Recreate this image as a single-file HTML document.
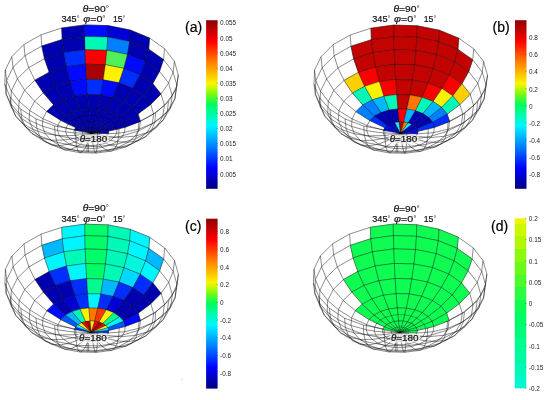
<!DOCTYPE html><html><head><meta charset="utf-8"><title>figure</title><style>html,body{margin:0;padding:0;background:#fff}body{width:550px;height:400px;overflow:hidden}</style></head><body><svg width="550" height="400" viewBox="0 0 550 400" style="display:block;font-family:'Liberation Sans',sans-serif"><rect width="550" height="400" fill="#fff"/><path d="M75.6 129.8 L75.8 139.0 L76.6 146.1 L78.0 150.7 L79.9 152.7 L82.3 151.8 L85.0 148.2 L86.5 145.4 L88.1 141.9 L89.7 137.7 L91.3 133.0 M54.6 125.9 L55.2 135.2 L57.1 142.4 L60.3 147.4 L64.8 149.9 L70.3 149.6 L76.7 146.7 L80.2 144.2 L83.8 141.1 L87.5 137.3 L91.3 133.0 M35.9 118.8 L36.8 128.3 L39.7 135.9 L44.6 141.5 L51.3 144.8 L59.7 145.7 L69.4 143.9 L74.6 142.1 L80.1 139.7 L85.6 136.6 L91.3 133.0 M20.7 109.1 L21.8 118.7 L25.5 126.9 L31.8 133.4 L40.4 137.9 L51.1 140.2 L63.5 140.1 L70.1 139.2 L77.0 137.7 L84.1 135.6 L91.3 133.0 M10.1 97.2 L11.3 107.1 L15.6 116.0 L22.9 123.6 L32.9 129.5 L45.2 133.6 L59.4 135.6 L67.1 135.7 L75.0 135.4 L83.1 134.5 L91.3 133.0 M4.8 83.9 L6.1 94.0 L10.7 103.7 L18.5 112.6 L29.2 120.2 L42.4 126.2 L57.5 130.5 L65.7 131.9 L74.1 132.8 L82.6 133.2 L91.3 133.0 M5.3 70.0 L6.6 80.5 L11.3 91.0 L19.1 101.2 L29.7 110.5 L42.9 118.7 L57.9 125.3 L66.0 128.0 L74.3 130.1 L82.8 131.8 L91.3 133.0 M11.8 56.6 L13.0 67.4 L17.4 78.7 L24.6 90.1 L34.5 101.2 L46.7 111.4 L60.6 120.3 L68.0 124.2 L75.7 127.6 L83.5 130.5 L91.3 133.0 M23.9 44.5 L25.0 55.6 L28.7 67.7 L34.9 80.2 L43.3 92.8 L53.6 104.8 L65.4 115.8 L71.7 120.8 L78.1 125.3 L84.7 129.4 L91.3 133.0 M41.0 34.8 L41.8 46.0 L44.5 58.7 L49.2 72.2 L55.5 86.1 L63.2 99.6 L72.0 112.3 L76.7 118.1 L81.5 123.5 L86.4 128.5 L91.3 133.0 M61.7 28.0 L62.2 39.5 L63.8 52.5 L66.5 66.7 L70.3 81.4 L74.8 96.0 L80.0 109.8 L82.7 116.3 L85.6 122.3 L88.4 127.9 L91.3 133.0 M84.7 24.9 L84.8 36.4 L85.1 49.7 L85.7 64.2 L86.6 79.3 L87.6 94.3 L88.8 108.7 L89.4 115.4 L90.0 121.7 L90.7 127.6 L91.3 133.0 M108.1 25.6 L107.8 37.1 L106.9 50.3 L105.4 64.7 L103.2 79.8 L100.7 94.7 L97.7 108.9 L96.2 115.6 L94.6 121.9 L92.9 127.7 L91.3 133.0 M130.3 30.1 L129.7 41.5 L127.5 54.4 L123.9 68.4 L119.0 82.8 L113.0 97.1 L106.2 110.5 L102.6 116.8 L98.9 122.7 L95.1 128.1 L91.3 133.0 M149.6 38.0 L148.7 49.2 L145.5 61.6 L140.1 74.9 L132.8 88.3 L123.9 101.3 L113.7 113.4 L108.2 119.0 L102.7 124.1 L97.0 128.8 L91.3 133.0 M164.6 48.7 L163.5 59.6 L159.5 71.4 L152.7 83.6 L143.6 95.7 L132.4 107.1 L119.5 117.4 L112.7 121.9 L105.7 126.1 L98.5 129.8 L91.3 133.0 M174.4 61.3 L173.1 72.0 L168.6 83.0 L161.0 94.0 L150.7 104.4 L138.0 113.9 L123.5 122.0 L115.7 125.5 L107.7 128.5 L99.5 131.0 L91.3 133.0 M178.3 75.0 L176.9 85.4 L172.2 95.6 L164.4 105.3 L153.6 114.0 L140.4 121.4 L125.1 127.2 L117.0 129.4 L108.6 131.1 L100.0 132.3 L91.3 133.0 M176.2 88.8 L174.9 98.8 L170.4 108.2 L162.7 116.6 L152.3 123.6 L139.4 128.9 L124.5 132.4 L116.5 133.3 L108.3 133.7 L99.8 133.6 L91.3 133.0 M168.5 101.6 L167.3 111.4 L163.2 120.1 L156.3 127.3 L146.9 132.7 L135.2 136.1 L121.7 137.3 L114.4 137.0 L106.8 136.2 L99.1 134.9 L91.3 133.0 M155.7 112.8 L154.8 122.4 L151.4 130.4 L145.7 136.6 L137.8 140.6 L128.0 142.3 L116.8 141.6 L110.7 140.3 L104.3 138.5 L97.9 136.0 L91.3 133.0 M138.9 121.7 L138.2 131.1 L135.7 138.6 L131.5 143.9 L125.7 146.9 L118.5 147.3 L110.2 145.0 L105.7 143.0 L101.0 140.2 L96.2 136.9 L91.3 133.0 M119.1 127.7 L118.6 136.9 L117.2 144.1 L114.7 148.9 L111.4 151.1 L107.2 150.6 L102.3 147.4 L99.7 144.7 L97.0 141.4 L94.2 137.5 L91.3 133.0 M97.5 130.4 L97.4 139.6 L97.1 146.6 L96.5 151.2 L95.8 153.1 L94.9 152.2 L93.8 148.5 L93.2 145.6 L92.6 142.0 L91.9 137.8 L91.3 133.0 M75.6 129.8 L54.6 125.9 L35.9 118.8 L20.7 109.1 L10.1 97.2 L4.8 83.9 L5.3 70.0 L11.8 56.6 L23.9 44.5 L41.0 34.8 L61.7 28.0 L84.7 24.9 L108.1 25.6 L130.3 30.1 L149.6 38.0 L164.6 48.7 L174.4 61.3 L178.3 75.0 L176.2 88.8 L168.5 101.6 L155.7 112.8 L138.9 121.7 L119.1 127.7 L97.5 130.4 L75.6 129.8 M75.8 139.0 L55.2 135.2 L36.8 128.3 L21.8 118.7 L11.3 107.1 L6.1 94.0 L6.6 80.5 L13.0 67.4 L25.0 55.6 L41.8 46.0 L62.2 39.5 L84.8 36.4 L107.8 37.1 L129.7 41.5 L148.7 49.2 L163.5 59.6 L173.1 72.0 L176.9 85.4 L174.9 98.8 L167.3 111.4 L154.8 122.4 L138.2 131.1 L118.6 136.9 L97.4 139.6 L75.8 139.0 M76.6 146.1 L57.1 142.4 L39.7 135.9 L25.5 126.9 L15.6 116.0 L10.7 103.7 L11.3 91.0 L17.4 78.7 L28.7 67.7 L44.5 58.7 L63.8 52.5 L85.1 49.7 L106.9 50.3 L127.5 54.4 L145.5 61.6 L159.5 71.4 L168.6 83.0 L172.2 95.6 L170.4 108.2 L163.2 120.1 L151.4 130.4 L135.7 138.6 L117.2 144.1 L97.1 146.6 L76.6 146.1 M78.0 150.7 L60.3 147.4 L44.6 141.5 L31.8 133.4 L22.9 123.6 L18.5 112.6 L19.1 101.2 L24.6 90.1 L34.9 80.2 L49.2 72.2 L66.5 66.7 L85.7 64.2 L105.4 64.7 L123.9 68.4 L140.1 74.9 L152.7 83.6 L161.0 94.0 L164.4 105.3 L162.7 116.6 L156.3 127.3 L145.7 136.6 L131.5 143.9 L114.7 148.9 L96.5 151.2 L78.0 150.7 M79.9 152.7 L64.8 149.9 L51.3 144.8 L40.4 137.9 L32.9 129.5 L29.2 120.2 L29.7 110.5 L34.5 101.2 L43.3 92.8 L55.5 86.1 L70.3 81.4 L86.6 79.3 L103.2 79.8 L119.0 82.8 L132.8 88.3 L143.6 95.7 L150.7 104.4 L153.6 114.0 L152.3 123.6 L146.9 132.7 L137.8 140.6 L125.7 146.9 L111.4 151.1 L95.8 153.1 L79.9 152.7 M82.3 151.8 L70.3 149.6 L59.7 145.7 L51.1 140.2 L45.2 133.6 L42.4 126.2 L42.9 118.7 L46.7 111.4 L53.6 104.8 L63.2 99.6 L74.8 96.0 L87.6 94.3 L100.7 94.7 L113.0 97.1 L123.9 101.3 L132.4 107.1 L138.0 113.9 L140.4 121.4 L139.4 128.9 L135.2 136.1 L128.0 142.3 L118.5 147.3 L107.2 150.6 L94.9 152.2 L82.3 151.8 M85.0 148.2 L76.7 146.7 L69.4 143.9 L63.5 140.1 L59.4 135.6 L57.5 130.5 L57.9 125.3 L60.6 120.3 L65.4 115.8 L72.0 112.3 L80.0 109.8 L88.8 108.7 L97.7 108.9 L106.2 110.5 L113.7 113.4 L119.5 117.4 L123.5 122.0 L125.1 127.2 L124.5 132.4 L121.7 137.3 L116.8 141.6 L110.2 145.0 L102.3 147.4 L93.8 148.5 L85.0 148.2 M86.5 145.4 L80.2 144.2 L74.6 142.1 L70.1 139.2 L67.1 135.7 L65.7 131.9 L66.0 128.0 L68.0 124.2 L71.7 120.8 L76.7 118.1 L82.7 116.3 L89.4 115.4 L96.2 115.6 L102.6 116.8 L108.2 119.0 L112.7 121.9 L115.7 125.5 L117.0 129.4 L116.5 133.3 L114.4 137.0 L110.7 140.3 L105.7 143.0 L99.7 144.7 L93.2 145.6 L86.5 145.4 M88.1 141.9 L83.8 141.1 L80.1 139.7 L77.0 137.7 L75.0 135.4 L74.1 132.8 L74.3 130.1 L75.7 127.6 L78.1 125.3 L81.5 123.5 L85.6 122.3 L90.0 121.7 L94.6 121.9 L98.9 122.7 L102.7 124.1 L105.7 126.1 L107.7 128.5 L108.6 131.1 L108.3 133.7 L106.8 136.2 L104.3 138.5 L101.0 140.2 L97.0 141.4 L92.6 142.0 L88.1 141.9 M89.7 137.7 L87.5 137.3 L85.6 136.6 L84.1 135.6 L83.1 134.5 L82.6 133.2 L82.8 131.8 L83.5 130.5 L84.7 129.4 L86.4 128.5 L88.4 127.9 L90.7 127.6 L92.9 127.7 L95.1 128.1 L97.0 128.8 L98.5 129.8 L99.5 131.0 L100.0 132.3 L99.8 133.6 L99.1 134.9 L97.9 136.0 L96.2 136.9 L94.2 137.5 L91.9 137.8 L89.7 137.7" fill="none" stroke="#000" stroke-width="0.45"/><g stroke="#000" stroke-opacity="0.75" stroke-width="0.4" stroke-linejoin="round"><polygon points="61.7,28.0 84.7,24.9 84.8,36.4 62.2,39.5" fill="#0000b0"/><polygon points="84.7,24.9 108.1,25.6 107.8,37.1 84.8,36.4" fill="#000aff"/><polygon points="108.1,25.6 130.3,30.1 129.7,41.5 107.8,37.1" fill="#0000d6"/><polygon points="130.3,30.1 149.6,38.0 148.7,49.2 129.7,41.5" fill="#0000b0"/><polygon points="41.8,46.0 62.2,39.5 63.8,52.5 44.5,58.7" fill="#0000b0"/><polygon points="62.2,39.5 84.8,36.4 85.1,49.7 63.8,52.5" fill="#0000b0"/><polygon points="84.8,36.4 107.8,37.1 106.9,50.3 85.1,49.7" fill="#00f9b7"/><polygon points="107.8,37.1 129.7,41.5 127.5,54.4 106.9,50.3" fill="#0080ff"/><polygon points="129.7,41.5 148.7,49.2 145.5,61.6 127.5,54.4" fill="#0000b0"/><polygon points="148.7,49.2 163.5,59.6 159.5,71.4 145.5,61.6" fill="#0000b0"/><polygon points="44.5,58.7 63.8,52.5 66.5,66.7 49.2,72.2" fill="#0000b0"/><polygon points="63.8,52.5 85.1,49.7 85.7,64.2 66.5,66.7" fill="#002eff"/><polygon points="85.1,49.7 106.9,50.3 105.4,64.7 85.7,64.2" fill="#fa0000"/><polygon points="106.9,50.3 127.5,54.4 123.9,68.4 105.4,64.7" fill="#50f058"/><polygon points="127.5,54.4 145.5,61.6 140.1,74.9 123.9,68.4" fill="#000aff"/><polygon points="145.5,61.6 159.5,71.4 152.7,83.6 140.1,74.9" fill="#0000b0"/><polygon points="34.9,80.2 49.2,72.2 55.5,86.1 43.3,92.8" fill="#0000b0"/><polygon points="49.2,72.2 66.5,66.7 70.3,81.4 55.5,86.1" fill="#0000b0"/><polygon points="66.5,66.7 85.7,64.2 86.6,79.3 70.3,81.4" fill="#000aff"/><polygon points="85.7,64.2 105.4,64.7 103.2,79.8 86.6,79.3" fill="#a80303"/><polygon points="105.4,64.7 123.9,68.4 119.0,82.8 103.2,79.8" fill="#faf200"/><polygon points="123.9,68.4 140.1,74.9 132.8,88.3 119.0,82.8" fill="#002eff"/><polygon points="140.1,74.9 152.7,83.6 143.6,95.7 132.8,88.3" fill="#0000b0"/><polygon points="152.7,83.6 161.0,94.0 150.7,104.4 143.6,95.7" fill="#0000b0"/><polygon points="43.3,92.8 55.5,86.1 63.2,99.6 53.6,104.8" fill="#0000b0"/><polygon points="55.5,86.1 70.3,81.4 74.8,96.0 63.2,99.6" fill="#0000b0"/><polygon points="70.3,81.4 86.6,79.3 87.6,94.3 74.8,96.0" fill="#000aff"/><polygon points="86.6,79.3 103.2,79.8 100.7,94.7 87.6,94.3" fill="#002eff"/><polygon points="103.2,79.8 119.0,82.8 113.0,97.1 100.7,94.7" fill="#000aff"/><polygon points="119.0,82.8 132.8,88.3 123.9,101.3 113.0,97.1" fill="#0000b0"/><polygon points="132.8,88.3 143.6,95.7 132.4,107.1 123.9,101.3" fill="#0000b0"/><polygon points="143.6,95.7 150.7,104.4 138.0,113.9 132.4,107.1" fill="#0000b0"/><polygon points="46.7,111.4 53.6,104.8 65.4,115.8 60.6,120.3" fill="#0000b0"/><polygon points="53.6,104.8 63.2,99.6 72.0,112.3 65.4,115.8" fill="#0000b0"/><polygon points="63.2,99.6 74.8,96.0 80.0,109.8 72.0,112.3" fill="#0000b0"/><polygon points="74.8,96.0 87.6,94.3 88.8,108.7 80.0,109.8" fill="#0000b0"/><polygon points="87.6,94.3 100.7,94.7 97.7,108.9 88.8,108.7" fill="#0000b0"/><polygon points="100.7,94.7 113.0,97.1 106.2,110.5 97.7,108.9" fill="#0000b0"/><polygon points="113.0,97.1 123.9,101.3 113.7,113.4 106.2,110.5" fill="#0000b0"/><polygon points="123.9,101.3 132.4,107.1 119.5,117.4 113.7,113.4" fill="#0000b0"/><polygon points="132.4,107.1 138.0,113.9 123.5,122.0 119.5,117.4" fill="#0000b0"/><polygon points="138.0,113.9 140.4,121.4 125.1,127.2 123.5,122.0" fill="#0000b0"/><polygon points="60.6,120.3 65.4,115.8 78.1,125.3 75.7,127.6" fill="#0000b0"/><polygon points="65.4,115.8 72.0,112.3 81.5,123.5 78.1,125.3" fill="#0000b0"/><polygon points="72.0,112.3 80.0,109.8 85.6,122.3 81.5,123.5" fill="#0000b0"/><polygon points="80.0,109.8 88.8,108.7 90.0,121.7 85.6,122.3" fill="#0000b0"/><polygon points="88.8,108.7 97.7,108.9 94.6,121.9 90.0,121.7" fill="#0000b0"/><polygon points="97.7,108.9 106.2,110.5 98.9,122.7 94.6,121.9" fill="#0000b0"/><polygon points="106.2,110.5 113.7,113.4 102.7,124.1 98.9,122.7" fill="#0000b0"/><polygon points="113.7,113.4 119.5,117.4 105.7,126.1 102.7,124.1" fill="#0000b0"/><polygon points="119.5,117.4 123.5,122.0 107.7,128.5 105.7,126.1" fill="#0000b0"/><polygon points="123.5,122.0 125.1,127.2 108.6,131.1 107.7,128.5" fill="#0000b0"/><polygon points="74.3,130.1 75.7,127.6 91.3,133.0 91.3,133.0" fill="#0000b0"/><polygon points="75.7,127.6 78.1,125.3 91.3,133.0 91.3,133.0" fill="#0000b0"/><polygon points="78.1,125.3 81.5,123.5 91.3,133.0 91.3,133.0" fill="#0000b0"/><polygon points="81.5,123.5 85.6,122.3 91.3,133.0 91.3,133.0" fill="#0000b0"/><polygon points="85.6,122.3 90.0,121.7 91.3,133.0 91.3,133.0" fill="#0000b0"/><polygon points="90.0,121.7 94.6,121.9 91.3,133.0 91.3,133.0" fill="#0000b0"/><polygon points="94.6,121.9 98.9,122.7 91.3,133.0 91.3,133.0" fill="#0000b0"/><polygon points="98.9,122.7 102.7,124.1 91.3,133.0 91.3,133.0" fill="#0000b0"/><polygon points="102.7,124.1 105.7,126.1 91.3,133.0 91.3,133.0" fill="#0000b0"/><polygon points="105.7,126.1 107.7,128.5 91.3,133.0 91.3,133.0" fill="#0000b0"/><polygon points="107.7,128.5 108.6,131.1 91.3,133.0 91.3,133.0" fill="#0000b0"/><polygon points="108.6,131.1 108.3,133.7 91.3,133.0 91.3,133.0" fill="#0000b0"/><path d="M68.0 124.2 L71.7 120.8 L76.7 118.1 L82.7 116.3 L89.4 115.4 L96.2 115.6 L102.6 116.8 L108.2 119.0 L112.7 121.9 L115.7 125.5 L117.0 129.4 M83.5 130.5 L84.7 129.4 L86.4 128.5 L88.4 127.9 L90.7 127.6 L92.9 127.7 L95.1 128.1 L97.0 128.8 L98.5 129.8 L99.5 131.0 L100.0 132.3" fill="none"/></g><text x="82.7" y="12.3" font-size="9.7" textLength="26.2" lengthAdjust="spacingAndGlyphs" fill="#111" stroke="#111" stroke-width="0.2"><tspan font-style="italic">θ</tspan>=90<tspan font-size="7.5" dy="-1" stroke="none">°</tspan></text><text x="61.5" y="21.6" font-size="9.7" textLength="18.0" lengthAdjust="spacingAndGlyphs" fill="#111" stroke="#111" stroke-width="0.2">345<tspan font-size="7.5" dy="-1" stroke="none">°</tspan></text><text x="83.2" y="21.6" font-size="9.7" textLength="22.5" lengthAdjust="spacingAndGlyphs" fill="#111" stroke="#111" stroke-width="0.2"><tspan font-style="italic">φ</tspan>=0<tspan font-size="7.5" dy="-1" stroke="none">°</tspan></text><text x="113.0" y="21.6" font-size="9.7" textLength="12.3" lengthAdjust="spacingAndGlyphs" fill="#111" stroke="#111" stroke-width="0.2">15<tspan font-size="7.5" dy="-1" stroke="none">°</tspan></text><rect x="78.7" y="134.5" width="30" height="9" fill="#fff" opacity="0.6"/><text x="79.7" y="141.8" font-size="9.7" textLength="27.6" lengthAdjust="spacingAndGlyphs" fill="#111" stroke="#111" stroke-width="0.2"><tspan font-style="italic">θ</tspan>=180</text><path d="M87.1 143.5 V152.1 M88.5 143.5 V152.1" stroke="#000" stroke-width="0.4" fill="none"/><path d="M384.8 130.0 L385.0 139.2 L385.8 146.3 L387.2 150.9 L389.1 152.9 L391.5 152.0 L394.2 148.4 L397.3 142.1 L400.5 133.2 M363.8 126.1 L364.4 135.4 L366.3 142.6 L369.5 147.6 L374.0 150.1 L379.5 149.8 L385.9 146.9 L393.0 141.3 L400.5 133.2 M345.1 119.0 L346.0 128.5 L348.9 136.1 L353.8 141.7 L360.5 145.0 L368.9 145.9 L378.6 144.1 L389.3 139.9 L400.5 133.2 M329.9 109.3 L331.0 118.9 L334.7 127.1 L341.0 133.6 L349.6 138.1 L360.3 140.4 L372.7 140.3 L386.2 137.9 L400.5 133.2 M319.3 97.4 L320.5 107.3 L324.8 116.2 L332.1 123.8 L342.1 129.7 L354.4 133.8 L368.6 135.8 L384.2 135.6 L400.5 133.2 M314.0 84.1 L315.3 94.2 L319.9 103.9 L327.7 112.8 L338.4 120.4 L351.6 126.4 L366.7 130.7 L383.3 133.0 L400.5 133.2 M314.5 70.2 L315.8 80.7 L320.5 91.2 L328.3 101.4 L338.9 110.7 L352.1 118.9 L367.1 125.5 L383.5 130.3 L400.5 133.2 M321.0 56.8 L322.2 67.6 L326.6 78.9 L333.8 90.3 L343.7 101.4 L355.9 111.6 L369.8 120.5 L384.9 127.8 L400.5 133.2 M333.1 44.7 L334.2 55.8 L337.9 67.9 L344.1 80.4 L352.5 93.0 L362.8 105.0 L374.6 116.0 L387.3 125.5 L400.5 133.2 M350.2 35.0 L351.0 46.2 L353.7 58.9 L358.4 72.4 L364.7 86.3 L372.4 99.8 L381.2 112.5 L390.7 123.7 L400.5 133.2 M370.9 28.2 L371.4 39.7 L373.0 52.7 L375.7 66.9 L379.5 81.6 L384.0 96.2 L389.2 110.0 L394.8 122.5 L400.5 133.2 M393.9 25.1 L394.0 36.6 L394.3 49.9 L394.9 64.4 L395.8 79.5 L396.8 94.5 L398.0 108.9 L399.2 121.9 L400.5 133.2 M417.3 25.8 L417.0 37.3 L416.1 50.5 L414.6 64.9 L412.4 80.0 L409.9 94.9 L406.9 109.1 L403.8 122.1 L400.5 133.2 M439.5 30.3 L438.9 41.7 L436.7 54.6 L433.1 68.6 L428.2 83.0 L422.2 97.3 L415.4 110.7 L408.1 122.9 L400.5 133.2 M458.8 38.2 L457.9 49.4 L454.7 61.8 L449.3 75.1 L442.0 88.5 L433.1 101.5 L422.9 113.6 L411.9 124.3 L400.5 133.2 M473.8 48.9 L472.7 59.8 L468.7 71.6 L461.9 83.8 L452.8 95.9 L441.6 107.3 L428.7 117.6 L414.9 126.3 L400.5 133.2 M483.6 61.5 L482.3 72.2 L477.8 83.2 L470.2 94.2 L459.9 104.6 L447.2 114.1 L432.7 122.2 L416.9 128.7 L400.5 133.2 M487.5 75.2 L486.1 85.6 L481.4 95.8 L473.6 105.5 L462.8 114.2 L449.6 121.6 L434.3 127.4 L417.8 131.3 L400.5 133.2 M485.4 89.0 L484.1 99.0 L479.6 108.4 L471.9 116.8 L461.5 123.8 L448.6 129.1 L433.7 132.6 L417.5 133.9 L400.5 133.2 M477.7 101.8 L476.5 111.6 L472.4 120.3 L465.5 127.5 L456.1 132.9 L444.4 136.3 L430.9 137.5 L416.0 136.4 L400.5 133.2 M464.9 113.0 L464.0 122.6 L460.6 130.6 L454.9 136.8 L447.0 140.8 L437.2 142.5 L426.0 141.8 L413.5 138.7 L400.5 133.2 M448.1 121.9 L447.4 131.3 L444.9 138.8 L440.7 144.1 L434.9 147.1 L427.7 147.5 L419.4 145.2 L410.2 140.4 L400.5 133.2 M428.3 127.9 L427.8 137.1 L426.4 144.3 L423.9 149.1 L420.6 151.3 L416.4 150.8 L411.5 147.6 L406.2 141.6 L400.5 133.2 M406.7 130.6 L406.6 139.8 L406.3 146.8 L405.7 151.4 L405.0 153.3 L404.1 152.4 L403.0 148.7 L401.8 142.2 L400.5 133.2 M384.8 130.0 L363.8 126.1 L345.1 119.0 L329.9 109.3 L319.3 97.4 L314.0 84.1 L314.5 70.2 L321.0 56.8 L333.1 44.7 L350.2 35.0 L370.9 28.2 L393.9 25.1 L417.3 25.8 L439.5 30.3 L458.8 38.2 L473.8 48.9 L483.6 61.5 L487.5 75.2 L485.4 89.0 L477.7 101.8 L464.9 113.0 L448.1 121.9 L428.3 127.9 L406.7 130.6 L384.8 130.0 M385.0 139.2 L364.4 135.4 L346.0 128.5 L331.0 118.9 L320.5 107.3 L315.3 94.2 L315.8 80.7 L322.2 67.6 L334.2 55.8 L351.0 46.2 L371.4 39.7 L394.0 36.6 L417.0 37.3 L438.9 41.7 L457.9 49.4 L472.7 59.8 L482.3 72.2 L486.1 85.6 L484.1 99.0 L476.5 111.6 L464.0 122.6 L447.4 131.3 L427.8 137.1 L406.6 139.8 L385.0 139.2 M385.8 146.3 L366.3 142.6 L348.9 136.1 L334.7 127.1 L324.8 116.2 L319.9 103.9 L320.5 91.2 L326.6 78.9 L337.9 67.9 L353.7 58.9 L373.0 52.7 L394.3 49.9 L416.1 50.5 L436.7 54.6 L454.7 61.8 L468.7 71.6 L477.8 83.2 L481.4 95.8 L479.6 108.4 L472.4 120.3 L460.6 130.6 L444.9 138.8 L426.4 144.3 L406.3 146.8 L385.8 146.3 M387.2 150.9 L369.5 147.6 L353.8 141.7 L341.0 133.6 L332.1 123.8 L327.7 112.8 L328.3 101.4 L333.8 90.3 L344.1 80.4 L358.4 72.4 L375.7 66.9 L394.9 64.4 L414.6 64.9 L433.1 68.6 L449.3 75.1 L461.9 83.8 L470.2 94.2 L473.6 105.5 L471.9 116.8 L465.5 127.5 L454.9 136.8 L440.7 144.1 L423.9 149.1 L405.7 151.4 L387.2 150.9 M389.1 152.9 L374.0 150.1 L360.5 145.0 L349.6 138.1 L342.1 129.7 L338.4 120.4 L338.9 110.7 L343.7 101.4 L352.5 93.0 L364.7 86.3 L379.5 81.6 L395.8 79.5 L412.4 80.0 L428.2 83.0 L442.0 88.5 L452.8 95.9 L459.9 104.6 L462.8 114.2 L461.5 123.8 L456.1 132.9 L447.0 140.8 L434.9 147.1 L420.6 151.3 L405.0 153.3 L389.1 152.9 M391.5 152.0 L379.5 149.8 L368.9 145.9 L360.3 140.4 L354.4 133.8 L351.6 126.4 L352.1 118.9 L355.9 111.6 L362.8 105.0 L372.4 99.8 L384.0 96.2 L396.8 94.5 L409.9 94.9 L422.2 97.3 L433.1 101.5 L441.6 107.3 L447.2 114.1 L449.6 121.6 L448.6 129.1 L444.4 136.3 L437.2 142.5 L427.7 147.5 L416.4 150.8 L404.1 152.4 L391.5 152.0 M394.2 148.4 L385.9 146.9 L378.6 144.1 L372.7 140.3 L368.6 135.8 L366.7 130.7 L367.1 125.5 L369.8 120.5 L374.6 116.0 L381.2 112.5 L389.2 110.0 L398.0 108.9 L406.9 109.1 L415.4 110.7 L422.9 113.6 L428.7 117.6 L432.7 122.2 L434.3 127.4 L433.7 132.6 L430.9 137.5 L426.0 141.8 L419.4 145.2 L411.5 147.6 L403.0 148.7 L394.2 148.4 M397.3 142.1 L393.0 141.3 L389.3 139.9 L386.2 137.9 L384.2 135.6 L383.3 133.0 L383.5 130.3 L384.9 127.8 L387.3 125.5 L390.7 123.7 L394.8 122.5 L399.2 121.9 L403.8 122.1 L408.1 122.9 L411.9 124.3 L414.9 126.3 L416.9 128.7 L417.8 131.3 L417.5 133.9 L416.0 136.4 L413.5 138.7 L410.2 140.4 L406.2 141.6 L401.8 142.2 L397.3 142.1" fill="none" stroke="#000" stroke-width="0.45"/><g stroke="#000" stroke-opacity="0.75" stroke-width="0.4" stroke-linejoin="round"><polygon points="370.9,28.2 393.9,25.1 394.0,36.6 371.4,39.7" fill="#c30202"/><polygon points="393.9,25.1 417.3,25.8 417.0,37.3 394.0,36.6" fill="#c30202"/><polygon points="417.3,25.8 439.5,30.3 438.9,41.7 417.0,37.3" fill="#c30202"/><polygon points="439.5,30.3 458.8,38.2 457.9,49.4 438.9,41.7" fill="#c30202"/><polygon points="351.0,46.2 371.4,39.7 373.0,52.7 353.7,58.9" fill="#c30202"/><polygon points="371.4,39.7 394.0,36.6 394.3,49.9 373.0,52.7" fill="#c30202"/><polygon points="394.0,36.6 417.0,37.3 416.1,50.5 394.3,49.9" fill="#c30202"/><polygon points="417.0,37.3 438.9,41.7 436.7,54.6 416.1,50.5" fill="#c30202"/><polygon points="438.9,41.7 457.9,49.4 454.7,61.8 436.7,54.6" fill="#c30202"/><polygon points="457.9,49.4 472.7,59.8 468.7,71.6 454.7,61.8" fill="#c30202"/><polygon points="353.7,58.9 373.0,52.7 375.7,66.9 358.4,72.4" fill="#c30202"/><polygon points="373.0,52.7 394.3,49.9 394.9,64.4 375.7,66.9" fill="#c30202"/><polygon points="394.3,49.9 416.1,50.5 414.6,64.9 394.9,64.4" fill="#c30202"/><polygon points="416.1,50.5 436.7,54.6 433.1,68.6 414.6,64.9" fill="#c30202"/><polygon points="436.7,54.6 454.7,61.8 449.3,75.1 433.1,68.6" fill="#c30202"/><polygon points="454.7,61.8 468.7,71.6 461.9,83.8 449.3,75.1" fill="#c30202"/><polygon points="344.1,80.4 358.4,72.4 364.7,86.3 352.5,93.0" fill="#fcd000"/><polygon points="358.4,72.4 375.7,66.9 379.5,81.6 364.7,86.3" fill="#fa0000"/><polygon points="375.7,66.9 394.9,64.4 395.8,79.5 379.5,81.6" fill="#c30202"/><polygon points="394.9,64.4 414.6,64.9 412.4,80.0 395.8,79.5" fill="#c30202"/><polygon points="414.6,64.9 433.1,68.6 428.2,83.0 412.4,80.0" fill="#c30202"/><polygon points="433.1,68.6 449.3,75.1 442.0,88.5 428.2,83.0" fill="#c30202"/><polygon points="449.3,75.1 461.9,83.8 452.8,95.9 442.0,88.5" fill="#fa0000"/><polygon points="461.9,83.8 470.2,94.2 459.9,104.6 452.8,95.9" fill="#fcd000"/><polygon points="352.5,93.0 364.7,86.3 372.4,99.8 362.8,105.0" fill="#00f9b7"/><polygon points="364.7,86.3 379.5,81.6 384.0,96.2 372.4,99.8" fill="#faf200"/><polygon points="379.5,81.6 395.8,79.5 396.8,94.5 384.0,96.2" fill="#fa0000"/><polygon points="395.8,79.5 412.4,80.0 409.9,94.9 396.8,94.5" fill="#c30202"/><polygon points="412.4,80.0 428.2,83.0 422.2,97.3 409.9,94.9" fill="#c30202"/><polygon points="428.2,83.0 442.0,88.5 433.1,101.5 422.2,97.3" fill="#fa0000"/><polygon points="442.0,88.5 452.8,95.9 441.6,107.3 433.1,101.5" fill="#faf200"/><polygon points="452.8,95.9 459.9,104.6 447.2,114.1 441.6,107.3" fill="#00f9b7"/><polygon points="355.9,111.6 362.8,105.0 374.6,116.0 369.8,120.5" fill="#0080ff"/><polygon points="362.8,105.0 372.4,99.8 381.2,112.5 374.6,116.0" fill="#0080ff"/><polygon points="372.4,99.8 384.0,96.2 389.2,110.0 381.2,112.5" fill="#00b8ff"/><polygon points="384.0,96.2 396.8,94.5 398.0,108.9 389.2,110.0" fill="#00f9b7"/><polygon points="396.8,94.5 409.9,94.9 406.9,109.1 398.0,108.9" fill="#c30202"/><polygon points="409.9,94.9 422.2,97.3 415.4,110.7 406.9,109.1" fill="#ff7600"/><polygon points="422.2,97.3 433.1,101.5 422.9,113.6 415.4,110.7" fill="#00f9b7"/><polygon points="433.1,101.5 441.6,107.3 428.7,117.6 422.9,113.6" fill="#00b8ff"/><polygon points="441.6,107.3 447.2,114.1 432.7,122.2 428.7,117.6" fill="#0080ff"/><polygon points="447.2,114.1 449.6,121.6 434.3,127.4 432.7,122.2" fill="#002eff"/><polygon points="369.8,120.5 374.6,116.0 387.3,125.5 384.9,127.8" fill="#002eff"/><polygon points="374.6,116.0 381.2,112.5 390.7,123.7 387.3,125.5" fill="#0000b0"/><polygon points="381.2,112.5 389.2,110.0 394.8,122.5 390.7,123.7" fill="#0000b0"/><polygon points="389.2,110.0 398.0,108.9 399.2,121.9 394.8,122.5" fill="#0000b0"/><polygon points="398.0,108.9 406.9,109.1 403.8,122.1 399.2,121.9" fill="#fa0000"/><polygon points="406.9,109.1 415.4,110.7 408.1,122.9 403.8,122.1" fill="#00b8ff"/><polygon points="415.4,110.7 422.9,113.6 411.9,124.3 408.1,122.9" fill="#0000b0"/><polygon points="422.9,113.6 428.7,117.6 414.9,126.3 411.9,124.3" fill="#0000b0"/><polygon points="428.7,117.6 432.7,122.2 416.9,128.7 414.9,126.3" fill="#0000b0"/><polygon points="432.7,122.2 434.3,127.4 417.8,131.3 416.9,128.7" fill="#002eff"/><polygon points="383.5,130.3 384.9,127.8 400.5,133.2 400.5,133.2" fill="#000aff"/><polygon points="384.9,127.8 387.3,125.5 400.5,133.2 400.5,133.2" fill="#000aff"/><polygon points="387.3,125.5 390.7,123.7 400.5,133.2 400.5,133.2" fill="#0000d6"/><polygon points="390.7,123.7 394.8,122.5 400.5,133.2 400.5,133.2" fill="#0000d6"/><polygon points="394.8,122.5 399.2,121.9 400.5,133.2 400.5,133.2" fill="#00f5ff"/><polygon points="399.2,121.9 403.8,122.1 400.5,133.2 400.5,133.2" fill="#a80303"/><polygon points="403.8,122.1 408.1,122.9 400.5,133.2 400.5,133.2" fill="#ff7600"/><polygon points="408.1,122.9 411.9,124.3 400.5,133.2 400.5,133.2" fill="#00f5ff"/><polygon points="411.9,124.3 414.9,126.3 400.5,133.2 400.5,133.2" fill="#0000d6"/><polygon points="414.9,126.3 416.9,128.7 400.5,133.2 400.5,133.2" fill="#0000d6"/><polygon points="416.9,128.7 417.8,131.3 400.5,133.2 400.5,133.2" fill="#000aff"/><polygon points="417.8,131.3 417.5,133.9 400.5,133.2 400.5,133.2" fill="#000aff"/><path d="" fill="none"/></g><text x="393.5" y="11.6" font-size="9.7" textLength="26.2" lengthAdjust="spacingAndGlyphs" fill="#111" stroke="#111" stroke-width="0.2"><tspan font-style="italic">θ</tspan>=90<tspan font-size="7.5" dy="-1" stroke="none">°</tspan></text><text x="372.3" y="22.4" font-size="9.7" textLength="18.0" lengthAdjust="spacingAndGlyphs" fill="#111" stroke="#111" stroke-width="0.2">345<tspan font-size="7.5" dy="-1" stroke="none">°</tspan></text><text x="394.0" y="22.4" font-size="9.7" textLength="22.5" lengthAdjust="spacingAndGlyphs" fill="#111" stroke="#111" stroke-width="0.2"><tspan font-style="italic">φ</tspan>=0<tspan font-size="7.5" dy="-1" stroke="none">°</tspan></text><text x="423.8" y="22.4" font-size="9.7" textLength="12.3" lengthAdjust="spacingAndGlyphs" fill="#111" stroke="#111" stroke-width="0.2">15<tspan font-size="7.5" dy="-1" stroke="none">°</tspan></text><rect x="388.7" y="134.7" width="30" height="9" fill="#fff" opacity="0.6"/><text x="389.7" y="142.0" font-size="9.7" textLength="27.6" lengthAdjust="spacingAndGlyphs" fill="#111" stroke="#111" stroke-width="0.2"><tspan font-style="italic">θ</tspan>=180</text><path d="M396.3 143.7 V152.3 M397.7 143.7 V152.3" stroke="#000" stroke-width="0.4" fill="none"/><path d="M75.7 329.1 L75.9 338.3 L76.7 345.4 L78.1 350.0 L80.0 352.0 L82.4 351.1 L85.1 347.5 L88.2 341.2 L91.4 332.3 M54.7 325.2 L55.3 334.5 L57.2 341.7 L60.4 346.7 L64.9 349.2 L70.4 348.9 L76.8 346.0 L83.9 340.4 L91.4 332.3 M36.0 318.1 L36.9 327.6 L39.8 335.2 L44.7 340.8 L51.4 344.1 L59.8 345.0 L69.5 343.2 L80.2 339.0 L91.4 332.3 M20.8 308.4 L21.9 318.0 L25.6 326.2 L31.9 332.7 L40.5 337.2 L51.2 339.5 L63.6 339.4 L77.1 337.0 L91.4 332.3 M10.2 296.5 L11.4 306.4 L15.7 315.3 L23.0 322.9 L33.0 328.8 L45.3 332.9 L59.5 334.9 L75.1 334.7 L91.4 332.3 M4.9 283.2 L6.2 293.3 L10.8 303.0 L18.6 311.9 L29.3 319.5 L42.5 325.5 L57.6 329.8 L74.2 332.1 L91.4 332.3 M5.4 269.3 L6.7 279.8 L11.4 290.3 L19.2 300.5 L29.8 309.8 L43.0 318.0 L58.0 324.6 L74.4 329.4 L91.4 332.3 M11.9 255.9 L13.1 266.7 L17.5 278.0 L24.7 289.4 L34.6 300.5 L46.8 310.7 L60.7 319.6 L75.8 326.9 L91.4 332.3 M24.0 243.8 L25.1 254.9 L28.8 267.0 L35.0 279.5 L43.4 292.1 L53.7 304.1 L65.5 315.1 L78.2 324.6 L91.4 332.3 M41.1 234.1 L41.9 245.3 L44.6 258.0 L49.3 271.5 L55.6 285.4 L63.3 298.9 L72.1 311.6 L81.6 322.8 L91.4 332.3 M61.8 227.3 L62.3 238.8 L63.9 251.8 L66.6 266.0 L70.4 280.7 L74.9 295.3 L80.1 309.1 L85.7 321.6 L91.4 332.3 M84.8 224.2 L84.9 235.7 L85.2 249.0 L85.8 263.5 L86.7 278.6 L87.7 293.6 L88.9 308.0 L90.1 321.0 L91.4 332.3 M108.2 224.9 L107.9 236.4 L107.0 249.6 L105.5 264.0 L103.3 279.1 L100.8 294.0 L97.8 308.2 L94.7 321.2 L91.4 332.3 M130.4 229.4 L129.8 240.8 L127.6 253.7 L124.0 267.7 L119.1 282.1 L113.1 296.4 L106.3 309.8 L99.0 322.0 L91.4 332.3 M149.7 237.3 L148.8 248.5 L145.6 260.9 L140.2 274.2 L132.9 287.6 L124.0 300.6 L113.8 312.7 L102.8 323.4 L91.4 332.3 M164.7 248.0 L163.6 258.9 L159.6 270.7 L152.8 282.9 L143.7 295.0 L132.5 306.4 L119.6 316.7 L105.8 325.4 L91.4 332.3 M174.5 260.6 L173.2 271.3 L168.7 282.3 L161.1 293.3 L150.8 303.7 L138.1 313.2 L123.6 321.3 L107.8 327.8 L91.4 332.3 M178.4 274.3 L177.0 284.7 L172.3 294.9 L164.5 304.6 L153.7 313.3 L140.5 320.7 L125.2 326.5 L108.7 330.4 L91.4 332.3 M176.3 288.1 L175.0 298.1 L170.5 307.5 L162.8 315.9 L152.4 322.9 L139.5 328.2 L124.6 331.7 L108.4 333.0 L91.4 332.3 M168.6 300.9 L167.4 310.7 L163.3 319.4 L156.4 326.6 L147.0 332.0 L135.3 335.4 L121.8 336.6 L106.9 335.5 L91.4 332.3 M155.8 312.1 L154.9 321.7 L151.5 329.7 L145.8 335.9 L137.9 339.9 L128.1 341.6 L116.9 340.9 L104.4 337.8 L91.4 332.3 M139.0 321.0 L138.3 330.4 L135.8 337.9 L131.6 343.2 L125.8 346.2 L118.6 346.6 L110.3 344.3 L101.1 339.5 L91.4 332.3 M119.2 327.0 L118.7 336.2 L117.3 343.4 L114.8 348.2 L111.5 350.4 L107.3 349.9 L102.4 346.7 L97.1 340.7 L91.4 332.3 M97.6 329.7 L97.5 338.9 L97.2 345.9 L96.6 350.5 L95.9 352.4 L95.0 351.5 L93.9 347.8 L92.7 341.3 L91.4 332.3 M75.7 329.1 L54.7 325.2 L36.0 318.1 L20.8 308.4 L10.2 296.5 L4.9 283.2 L5.4 269.3 L11.9 255.9 L24.0 243.8 L41.1 234.1 L61.8 227.3 L84.8 224.2 L108.2 224.9 L130.4 229.4 L149.7 237.3 L164.7 248.0 L174.5 260.6 L178.4 274.3 L176.3 288.1 L168.6 300.9 L155.8 312.1 L139.0 321.0 L119.2 327.0 L97.6 329.7 L75.7 329.1 M75.9 338.3 L55.3 334.5 L36.9 327.6 L21.9 318.0 L11.4 306.4 L6.2 293.3 L6.7 279.8 L13.1 266.7 L25.1 254.9 L41.9 245.3 L62.3 238.8 L84.9 235.7 L107.9 236.4 L129.8 240.8 L148.8 248.5 L163.6 258.9 L173.2 271.3 L177.0 284.7 L175.0 298.1 L167.4 310.7 L154.9 321.7 L138.3 330.4 L118.7 336.2 L97.5 338.9 L75.9 338.3 M76.7 345.4 L57.2 341.7 L39.8 335.2 L25.6 326.2 L15.7 315.3 L10.8 303.0 L11.4 290.3 L17.5 278.0 L28.8 267.0 L44.6 258.0 L63.9 251.8 L85.2 249.0 L107.0 249.6 L127.6 253.7 L145.6 260.9 L159.6 270.7 L168.7 282.3 L172.3 294.9 L170.5 307.5 L163.3 319.4 L151.5 329.7 L135.8 337.9 L117.3 343.4 L97.2 345.9 L76.7 345.4 M78.1 350.0 L60.4 346.7 L44.7 340.8 L31.9 332.7 L23.0 322.9 L18.6 311.9 L19.2 300.5 L24.7 289.4 L35.0 279.5 L49.3 271.5 L66.6 266.0 L85.8 263.5 L105.5 264.0 L124.0 267.7 L140.2 274.2 L152.8 282.9 L161.1 293.3 L164.5 304.6 L162.8 315.9 L156.4 326.6 L145.8 335.9 L131.6 343.2 L114.8 348.2 L96.6 350.5 L78.1 350.0 M80.0 352.0 L64.9 349.2 L51.4 344.1 L40.5 337.2 L33.0 328.8 L29.3 319.5 L29.8 309.8 L34.6 300.5 L43.4 292.1 L55.6 285.4 L70.4 280.7 L86.7 278.6 L103.3 279.1 L119.1 282.1 L132.9 287.6 L143.7 295.0 L150.8 303.7 L153.7 313.3 L152.4 322.9 L147.0 332.0 L137.9 339.9 L125.8 346.2 L111.5 350.4 L95.9 352.4 L80.0 352.0 M82.4 351.1 L70.4 348.9 L59.8 345.0 L51.2 339.5 L45.3 332.9 L42.5 325.5 L43.0 318.0 L46.8 310.7 L53.7 304.1 L63.3 298.9 L74.9 295.3 L87.7 293.6 L100.8 294.0 L113.1 296.4 L124.0 300.6 L132.5 306.4 L138.1 313.2 L140.5 320.7 L139.5 328.2 L135.3 335.4 L128.1 341.6 L118.6 346.6 L107.3 349.9 L95.0 351.5 L82.4 351.1 M85.1 347.5 L76.8 346.0 L69.5 343.2 L63.6 339.4 L59.5 334.9 L57.6 329.8 L58.0 324.6 L60.7 319.6 L65.5 315.1 L72.1 311.6 L80.1 309.1 L88.9 308.0 L97.8 308.2 L106.3 309.8 L113.8 312.7 L119.6 316.7 L123.6 321.3 L125.2 326.5 L124.6 331.7 L121.8 336.6 L116.9 340.9 L110.3 344.3 L102.4 346.7 L93.9 347.8 L85.1 347.5 M88.2 341.2 L83.9 340.4 L80.2 339.0 L77.1 337.0 L75.1 334.7 L74.2 332.1 L74.4 329.4 L75.8 326.9 L78.2 324.6 L81.6 322.8 L85.7 321.6 L90.1 321.0 L94.7 321.2 L99.0 322.0 L102.8 323.4 L105.8 325.4 L107.8 327.8 L108.7 330.4 L108.4 333.0 L106.9 335.5 L104.4 337.8 L101.1 339.5 L97.1 340.7 L92.7 341.3 L88.2 341.2" fill="none" stroke="#000" stroke-width="0.45"/><g stroke="#000" stroke-opacity="0.75" stroke-width="0.4" stroke-linejoin="round"><polygon points="61.8,227.3 84.8,224.2 84.9,235.7 62.3,238.8" fill="#00f5ff"/><polygon points="84.8,224.2 108.2,224.9 107.9,236.4 84.9,235.7" fill="#00fc69"/><polygon points="108.2,224.9 130.4,229.4 129.8,240.8 107.9,236.4" fill="#00f9b7"/><polygon points="130.4,229.4 149.7,237.3 148.8,248.5 129.8,240.8" fill="#00f5ff"/><polygon points="41.9,245.3 62.3,238.8 63.9,251.8 44.6,258.0" fill="#00b8ff"/><polygon points="62.3,238.8 84.9,235.7 85.2,249.0 63.9,251.8" fill="#00f5ff"/><polygon points="84.9,235.7 107.9,236.4 107.0,249.6 85.2,249.0" fill="#00fc69"/><polygon points="107.9,236.4 129.8,240.8 127.6,253.7 107.0,249.6" fill="#00f9b7"/><polygon points="129.8,240.8 148.8,248.5 145.6,260.9 127.6,253.7" fill="#00f5ff"/><polygon points="148.8,248.5 163.6,258.9 159.6,270.7 145.6,260.9" fill="#00b8ff"/><polygon points="44.6,258.0 63.9,251.8 66.6,266.0 49.3,271.5" fill="#00f5ff"/><polygon points="63.9,251.8 85.2,249.0 85.8,263.5 66.6,266.0" fill="#00f9b7"/><polygon points="85.2,249.0 107.0,249.6 105.5,264.0 85.8,263.5" fill="#00fc69"/><polygon points="107.0,249.6 127.6,253.7 124.0,267.7 105.5,264.0" fill="#00f9b7"/><polygon points="127.6,253.7 145.6,260.9 140.2,274.2 124.0,267.7" fill="#00f7de"/><polygon points="145.6,260.9 159.6,270.7 152.8,282.9 140.2,274.2" fill="#00f5ff"/><polygon points="35.0,279.5 49.3,271.5 55.6,285.4 43.4,292.1" fill="#0000b0"/><polygon points="49.3,271.5 66.6,266.0 70.4,280.7 55.6,285.4" fill="#002eff"/><polygon points="66.6,266.0 85.8,263.5 86.7,278.6 70.4,280.7" fill="#00f5ff"/><polygon points="85.8,263.5 105.5,264.0 103.3,279.1 86.7,278.6" fill="#00fc69"/><polygon points="105.5,264.0 124.0,267.7 119.1,282.1 103.3,279.1" fill="#00f9b7"/><polygon points="124.0,267.7 140.2,274.2 132.9,287.6 119.1,282.1" fill="#00d9ff"/><polygon points="140.2,274.2 152.8,282.9 143.7,295.0 132.9,287.6" fill="#002eff"/><polygon points="152.8,282.9 161.1,293.3 150.8,303.7 143.7,295.0" fill="#0000b0"/><polygon points="43.4,292.1 55.6,285.4 63.3,298.9 53.7,304.1" fill="#0000b0"/><polygon points="55.6,285.4 70.4,280.7 74.9,295.3 63.3,298.9" fill="#0000b0"/><polygon points="70.4,280.7 86.7,278.6 87.7,293.6 74.9,295.3" fill="#002eff"/><polygon points="86.7,278.6 103.3,279.1 100.8,294.0 87.7,293.6" fill="#00fb90"/><polygon points="103.3,279.1 119.1,282.1 113.1,296.4 100.8,294.0" fill="#00b8ff"/><polygon points="119.1,282.1 132.9,287.6 124.0,300.6 113.1,296.4" fill="#002eff"/><polygon points="132.9,287.6 143.7,295.0 132.5,306.4 124.0,300.6" fill="#0000b0"/><polygon points="143.7,295.0 150.8,303.7 138.1,313.2 132.5,306.4" fill="#0000b0"/><polygon points="46.8,310.7 53.7,304.1 65.5,315.1 60.7,319.6" fill="#000aff"/><polygon points="53.7,304.1 63.3,298.9 72.1,311.6 65.5,315.1" fill="#0000b0"/><polygon points="63.3,298.9 74.9,295.3 80.1,309.1 72.1,311.6" fill="#0000d6"/><polygon points="74.9,295.3 87.7,293.6 88.9,308.0 80.1,309.1" fill="#002eff"/><polygon points="87.7,293.6 100.8,294.0 97.8,308.2 88.9,308.0" fill="#00f5ff"/><polygon points="100.8,294.0 113.1,296.4 106.3,309.8 97.8,308.2" fill="#002eff"/><polygon points="113.1,296.4 124.0,300.6 113.8,312.7 106.3,309.8" fill="#0000d6"/><polygon points="124.0,300.6 132.5,306.4 119.6,316.7 113.8,312.7" fill="#0000b0"/><polygon points="132.5,306.4 138.1,313.2 123.6,321.3 119.6,316.7" fill="#0000b0"/><polygon points="138.1,313.2 140.5,320.7 125.2,326.5 123.6,321.3" fill="#000aff"/><polygon points="60.7,319.6 65.5,315.1 78.2,324.6 75.8,326.9" fill="#0057ff"/><polygon points="65.5,315.1 72.1,311.6 81.6,322.8 78.2,324.6" fill="#00b8ff"/><polygon points="72.1,311.6 80.1,309.1 85.7,321.6 81.6,322.8" fill="#00f9b7"/><polygon points="80.1,309.1 88.9,308.0 90.1,321.0 85.7,321.6" fill="#faf200"/><polygon points="88.9,308.0 97.8,308.2 94.7,321.2 90.1,321.0" fill="#ff7600"/><polygon points="97.8,308.2 106.3,309.8 99.0,322.0 94.7,321.2" fill="#ff3800"/><polygon points="106.3,309.8 113.8,312.7 102.8,323.4 99.0,322.0" fill="#faf200"/><polygon points="113.8,312.7 119.6,316.7 105.8,325.4 102.8,323.4" fill="#00fb90"/><polygon points="119.6,316.7 123.6,321.3 107.8,327.8 105.8,325.4" fill="#00f5ff"/><polygon points="123.6,321.3 125.2,326.5 108.7,330.4 107.8,327.8" fill="#0057ff"/><polygon points="74.4,329.4 75.8,326.9 91.4,332.3 91.4,332.3" fill="#002eff"/><polygon points="75.8,326.9 78.2,324.6 91.4,332.3 91.4,332.3" fill="#00f5ff"/><polygon points="78.2,324.6 81.6,322.8 91.4,332.3 91.4,332.3" fill="#faf200"/><polygon points="81.6,322.8 85.7,321.6 91.4,332.3 91.4,332.3" fill="#fa0000"/><polygon points="85.7,321.6 90.1,321.0 91.4,332.3 91.4,332.3" fill="#a80303"/><polygon points="90.1,321.0 94.7,321.2 91.4,332.3 91.4,332.3" fill="#faf200"/><polygon points="94.7,321.2 99.0,322.0 91.4,332.3 91.4,332.3" fill="#fa0000"/><polygon points="99.0,322.0 102.8,323.4 91.4,332.3 91.4,332.3" fill="#a80303"/><polygon points="102.8,323.4 105.8,325.4 91.4,332.3 91.4,332.3" fill="#fa0000"/><polygon points="105.8,325.4 107.8,327.8 91.4,332.3 91.4,332.3" fill="#faf200"/><polygon points="107.8,327.8 108.7,330.4 91.4,332.3 91.4,332.3" fill="#00f5ff"/><polygon points="108.7,330.4 108.4,333.0 91.4,332.3 91.4,332.3" fill="#002eff"/><path d="" fill="none"/></g><text x="82.7" y="211.1" font-size="9.7" textLength="26.2" lengthAdjust="spacingAndGlyphs" fill="#111" stroke="#111" stroke-width="0.2"><tspan font-style="italic">θ</tspan>=90<tspan font-size="7.5" dy="-1" stroke="none">°</tspan></text><text x="61.5" y="221.6" font-size="9.7" textLength="18.0" lengthAdjust="spacingAndGlyphs" fill="#111" stroke="#111" stroke-width="0.2">345<tspan font-size="7.5" dy="-1" stroke="none">°</tspan></text><text x="83.2" y="221.6" font-size="9.7" textLength="22.5" lengthAdjust="spacingAndGlyphs" fill="#111" stroke="#111" stroke-width="0.2"><tspan font-style="italic">φ</tspan>=0<tspan font-size="7.5" dy="-1" stroke="none">°</tspan></text><text x="113.0" y="221.6" font-size="9.7" textLength="12.3" lengthAdjust="spacingAndGlyphs" fill="#111" stroke="#111" stroke-width="0.2">15<tspan font-size="7.5" dy="-1" stroke="none">°</tspan></text><rect x="78.1" y="333.8" width="30" height="9" fill="#fff" opacity="0.6"/><text x="79.1" y="341.1" font-size="9.7" textLength="27.6" lengthAdjust="spacingAndGlyphs" fill="#111" stroke="#111" stroke-width="0.2"><tspan font-style="italic">θ</tspan>=180</text><path d="M87.2 342.8 V351.4 M88.6 342.8 V351.4" stroke="#000" stroke-width="0.4" fill="none"/><path d="M384.2 329.0 L384.4 338.2 L385.3 345.3 L386.7 349.9 L388.6 351.9 L390.9 351.1 L393.7 347.5 L395.2 344.6 L396.7 341.1 L398.3 337.0 L399.9 332.2 M363.3 325.1 L363.8 334.4 L365.7 341.7 L369.0 346.6 L373.4 349.1 L378.9 348.9 L385.4 345.9 L388.9 343.4 L392.5 340.3 L396.2 336.6 L399.9 332.2 M344.6 318.1 L345.4 327.5 L348.3 335.2 L353.2 340.8 L359.9 344.1 L368.3 344.9 L378.0 343.2 L383.3 341.3 L388.7 338.9 L394.3 335.8 L399.9 332.2 M329.4 308.3 L330.5 317.9 L334.2 326.2 L340.4 332.7 L349.1 337.2 L359.8 339.4 L372.1 339.4 L378.8 338.5 L385.7 336.9 L392.8 334.9 L399.9 332.2 M318.7 296.4 L320.0 306.3 L324.3 315.2 L331.5 322.8 L341.5 328.8 L353.8 332.8 L368.1 334.8 L375.7 335.0 L383.6 334.6 L391.7 333.7 L399.9 332.2 M313.4 283.1 L314.8 293.3 L319.4 303.0 L327.2 311.8 L337.8 319.4 L351.0 325.5 L366.2 329.7 L374.3 331.1 L382.7 332.0 L391.3 332.4 L399.9 332.2 M314.0 269.2 L315.3 279.7 L319.9 290.3 L327.7 300.4 L338.4 309.7 L351.5 317.9 L366.5 324.5 L374.6 327.2 L382.9 329.4 L391.4 331.0 L399.9 332.2 M320.4 255.8 L321.7 266.6 L326.0 277.9 L333.3 289.4 L343.2 300.4 L355.3 310.6 L369.2 319.5 L376.7 323.4 L384.3 326.8 L392.1 329.8 L399.9 332.2 M332.6 243.8 L333.6 254.8 L337.3 266.9 L343.5 279.5 L351.9 292.0 L362.3 304.1 L374.0 315.1 L380.3 320.0 L386.8 324.6 L393.3 328.6 L399.9 332.2 M349.6 234.0 L350.4 245.3 L353.2 257.9 L357.8 271.5 L364.1 285.3 L371.9 298.8 L380.7 311.5 L385.3 317.3 L390.2 322.8 L395.0 327.7 L399.9 332.2 M370.3 227.3 L370.8 238.7 L372.4 251.8 L375.2 266.0 L378.9 280.7 L383.5 295.2 L388.6 309.0 L391.4 315.5 L394.2 321.5 L397.1 327.1 L399.9 332.2 M393.3 224.1 L393.4 235.6 L393.8 248.9 L394.4 263.4 L395.2 278.5 L396.2 293.6 L397.4 307.9 L398.0 314.6 L398.7 321.0 L399.3 326.8 L399.9 332.2 M416.8 224.8 L416.5 236.3 L415.6 249.5 L414.0 264.0 L411.9 279.0 L409.3 293.9 L406.4 308.2 L404.8 314.8 L403.2 321.1 L401.6 326.9 L399.9 332.2 M439.0 229.3 L438.3 240.7 L436.2 253.6 L432.6 267.6 L427.7 282.1 L421.7 296.3 L414.9 309.8 L411.2 316.0 L407.5 321.9 L403.7 327.3 L399.9 332.2 M458.2 237.2 L457.3 248.4 L454.1 260.9 L448.8 274.1 L441.4 287.5 L432.5 300.5 L422.3 312.7 L416.9 318.2 L411.3 323.4 L405.6 328.0 L399.9 332.2 M473.3 247.9 L472.1 258.9 L468.1 270.7 L461.4 282.8 L452.2 294.9 L441.0 306.3 L428.2 316.6 L421.3 321.2 L414.3 325.3 L407.1 329.0 L399.9 332.2 M483.0 260.6 L481.7 271.2 L477.2 282.3 L469.6 293.2 L459.3 303.7 L446.6 313.1 L432.1 321.3 L424.3 324.7 L416.3 327.7 L408.2 330.2 L399.9 332.2 M486.9 274.2 L485.5 284.6 L480.9 294.8 L473.0 304.5 L462.3 313.2 L449.0 320.6 L433.8 326.4 L425.6 328.6 L417.2 330.3 L408.6 331.5 L399.9 332.2 M484.8 288.0 L483.5 298.1 L479.0 307.5 L471.4 315.8 L460.9 322.8 L448.0 328.2 L433.2 331.6 L425.2 332.5 L416.9 333.0 L408.5 332.9 L399.9 332.2 M477.1 300.9 L475.9 310.7 L471.9 319.3 L465.0 326.5 L455.5 331.9 L443.8 335.3 L430.3 336.5 L423.0 336.3 L415.5 335.5 L407.8 334.1 L399.9 332.2 M464.4 312.1 L463.4 321.6 L460.0 329.6 L454.3 335.8 L446.4 339.8 L436.7 341.5 L425.4 340.8 L419.3 339.6 L413.0 337.7 L406.5 335.2 L399.9 332.2 M447.5 320.9 L446.8 330.3 L444.3 337.8 L440.1 343.1 L434.3 346.1 L427.1 346.5 L418.8 344.3 L414.3 342.2 L409.6 339.5 L404.8 336.1 L399.9 332.2 M427.7 326.9 L427.3 336.1 L425.8 343.3 L423.4 348.1 L420.0 350.3 L415.8 349.9 L411.0 346.6 L408.3 344.0 L405.6 340.7 L402.8 336.7 L399.9 332.2 M406.1 329.7 L406.1 338.8 L405.7 345.9 L405.2 350.4 L404.4 352.3 L403.5 351.4 L402.4 347.7 L401.8 344.8 L401.2 341.2 L400.6 337.0 L399.9 332.2 M384.2 329.0 L363.3 325.1 L344.6 318.1 L329.4 308.3 L318.7 296.4 L313.4 283.1 L314.0 269.2 L320.4 255.8 L332.6 243.8 L349.6 234.0 L370.3 227.3 L393.3 224.1 L416.8 224.8 L439.0 229.3 L458.2 237.2 L473.3 247.9 L483.0 260.6 L486.9 274.2 L484.8 288.0 L477.1 300.9 L464.4 312.1 L447.5 320.9 L427.7 326.9 L406.1 329.7 L384.2 329.0 M384.4 338.2 L363.8 334.4 L345.4 327.5 L330.5 317.9 L320.0 306.3 L314.8 293.3 L315.3 279.7 L321.7 266.6 L333.6 254.8 L350.4 245.3 L370.8 238.7 L393.4 235.6 L416.5 236.3 L438.3 240.7 L457.3 248.4 L472.1 258.9 L481.7 271.2 L485.5 284.6 L483.5 298.1 L475.9 310.7 L463.4 321.6 L446.8 330.3 L427.3 336.1 L406.1 338.8 L384.4 338.2 M385.3 345.3 L365.7 341.7 L348.3 335.2 L334.2 326.2 L324.3 315.2 L319.4 303.0 L319.9 290.3 L326.0 277.9 L337.3 266.9 L353.2 257.9 L372.4 251.8 L393.8 248.9 L415.6 249.5 L436.2 253.6 L454.1 260.9 L468.1 270.7 L477.2 282.3 L480.9 294.8 L479.0 307.5 L471.9 319.3 L460.0 329.6 L444.3 337.8 L425.8 343.3 L405.7 345.9 L385.3 345.3 M386.7 349.9 L369.0 346.6 L353.2 340.8 L340.4 332.7 L331.5 322.8 L327.2 311.8 L327.7 300.4 L333.3 289.4 L343.5 279.5 L357.8 271.5 L375.2 266.0 L394.4 263.4 L414.0 264.0 L432.6 267.6 L448.8 274.1 L461.4 282.8 L469.6 293.2 L473.0 304.5 L471.4 315.8 L465.0 326.5 L454.3 335.8 L440.1 343.1 L423.4 348.1 L405.2 350.4 L386.7 349.9 M388.6 351.9 L373.4 349.1 L359.9 344.1 L349.1 337.2 L341.5 328.8 L337.8 319.4 L338.4 309.7 L343.2 300.4 L351.9 292.0 L364.1 285.3 L378.9 280.7 L395.2 278.5 L411.9 279.0 L427.7 282.1 L441.4 287.5 L452.2 294.9 L459.3 303.7 L462.3 313.2 L460.9 322.8 L455.5 331.9 L446.4 339.8 L434.3 346.1 L420.0 350.3 L404.4 352.3 L388.6 351.9 M390.9 351.1 L378.9 348.9 L368.3 344.9 L359.8 339.4 L353.8 332.8 L351.0 325.5 L351.5 317.9 L355.3 310.6 L362.3 304.1 L371.9 298.8 L383.5 295.2 L396.2 293.6 L409.3 293.9 L421.7 296.3 L432.5 300.5 L441.0 306.3 L446.6 313.1 L449.0 320.6 L448.0 328.2 L443.8 335.3 L436.7 341.5 L427.1 346.5 L415.8 349.9 L403.5 351.4 L390.9 351.1 M393.7 347.5 L385.4 345.9 L378.0 343.2 L372.1 339.4 L368.1 334.8 L366.2 329.7 L366.5 324.5 L369.2 319.5 L374.0 315.1 L380.7 311.5 L388.6 309.0 L397.4 307.9 L406.4 308.2 L414.9 309.8 L422.3 312.7 L428.2 316.6 L432.1 321.3 L433.8 326.4 L433.2 331.6 L430.3 336.5 L425.4 340.8 L418.8 344.3 L411.0 346.6 L402.4 347.7 L393.7 347.5 M395.2 344.6 L388.9 343.4 L383.3 341.3 L378.8 338.5 L375.7 335.0 L374.3 331.1 L374.6 327.2 L376.7 323.4 L380.3 320.0 L385.3 317.3 L391.4 315.5 L398.0 314.6 L404.8 314.8 L411.2 316.0 L416.9 318.2 L421.3 321.2 L424.3 324.7 L425.6 328.6 L425.2 332.5 L423.0 336.3 L419.3 339.6 L414.3 342.2 L408.3 344.0 L401.8 344.8 L395.2 344.6 M396.7 341.1 L392.5 340.3 L388.7 338.9 L385.7 336.9 L383.6 334.6 L382.7 332.0 L382.9 329.4 L384.3 326.8 L386.8 324.6 L390.2 322.8 L394.2 321.5 L398.7 321.0 L403.2 321.1 L407.5 321.9 L411.3 323.4 L414.3 325.3 L416.3 327.7 L417.2 330.3 L416.9 333.0 L415.5 335.5 L413.0 337.7 L409.6 339.5 L405.6 340.7 L401.2 341.2 L396.7 341.1 M398.3 337.0 L396.2 336.6 L394.3 335.8 L392.8 334.9 L391.7 333.7 L391.3 332.4 L391.4 331.0 L392.1 329.8 L393.3 328.6 L395.0 327.7 L397.1 327.1 L399.3 326.8 L401.6 326.9 L403.7 327.3 L405.6 328.0 L407.1 329.0 L408.2 330.2 L408.6 331.5 L408.5 332.9 L407.8 334.1 L406.5 335.2 L404.8 336.1 L402.8 336.7 L400.6 337.0 L398.3 337.0" fill="none" stroke="#000" stroke-width="0.45"/><g stroke="#000" stroke-opacity="0.75" stroke-width="0.4" stroke-linejoin="round"><polygon points="370.3,227.3 393.3,224.1 393.4,235.6 370.8,238.7" fill="#0ffc52"/><polygon points="393.3,224.1 416.8,224.8 416.5,236.3 393.4,235.6" fill="#0ffc52"/><polygon points="416.8,224.8 439.0,229.3 438.3,240.7 416.5,236.3" fill="#0ffc52"/><polygon points="439.0,229.3 458.2,237.2 457.3,248.4 438.3,240.7" fill="#0ffc52"/><polygon points="350.4,245.3 370.8,238.7 372.4,251.8 353.2,257.9" fill="#0ffc52"/><polygon points="370.8,238.7 393.4,235.6 393.8,248.9 372.4,251.8" fill="#0ffc52"/><polygon points="393.4,235.6 416.5,236.3 415.6,249.5 393.8,248.9" fill="#0ffc52"/><polygon points="416.5,236.3 438.3,240.7 436.2,253.6 415.6,249.5" fill="#0ffc52"/><polygon points="438.3,240.7 457.3,248.4 454.1,260.9 436.2,253.6" fill="#0ffc52"/><polygon points="457.3,248.4 472.1,258.9 468.1,270.7 454.1,260.9" fill="#0ffc52"/><polygon points="353.2,257.9 372.4,251.8 375.2,266.0 357.8,271.5" fill="#0ffc52"/><polygon points="372.4,251.8 393.8,248.9 394.4,263.4 375.2,266.0" fill="#0ffc52"/><polygon points="393.8,248.9 415.6,249.5 414.0,264.0 394.4,263.4" fill="#0ffc52"/><polygon points="415.6,249.5 436.2,253.6 432.6,267.6 414.0,264.0" fill="#0ffc52"/><polygon points="436.2,253.6 454.1,260.9 448.8,274.1 432.6,267.6" fill="#0ffc52"/><polygon points="454.1,260.9 468.1,270.7 461.4,282.8 448.8,274.1" fill="#0ffc52"/><polygon points="343.5,279.5 357.8,271.5 364.1,285.3 351.9,292.0" fill="#0ffc52"/><polygon points="357.8,271.5 375.2,266.0 378.9,280.7 364.1,285.3" fill="#0ffc52"/><polygon points="375.2,266.0 394.4,263.4 395.2,278.5 378.9,280.7" fill="#0ffc52"/><polygon points="394.4,263.4 414.0,264.0 411.9,279.0 395.2,278.5" fill="#0ffc52"/><polygon points="414.0,264.0 432.6,267.6 427.7,282.1 411.9,279.0" fill="#0ffc52"/><polygon points="432.6,267.6 448.8,274.1 441.4,287.5 427.7,282.1" fill="#0ffc52"/><polygon points="448.8,274.1 461.4,282.8 452.2,294.9 441.4,287.5" fill="#0ffc52"/><polygon points="461.4,282.8 469.6,293.2 459.3,303.7 452.2,294.9" fill="#0ffc52"/><polygon points="351.9,292.0 364.1,285.3 371.9,298.8 362.3,304.1" fill="#0ffc52"/><polygon points="364.1,285.3 378.9,280.7 383.5,295.2 371.9,298.8" fill="#0ffc52"/><polygon points="378.9,280.7 395.2,278.5 396.2,293.6 383.5,295.2" fill="#0ffc52"/><polygon points="395.2,278.5 411.9,279.0 409.3,293.9 396.2,293.6" fill="#0ffc52"/><polygon points="411.9,279.0 427.7,282.1 421.7,296.3 409.3,293.9" fill="#0ffc52"/><polygon points="427.7,282.1 441.4,287.5 432.5,300.5 421.7,296.3" fill="#0ffc52"/><polygon points="441.4,287.5 452.2,294.9 441.0,306.3 432.5,300.5" fill="#0ffc52"/><polygon points="452.2,294.9 459.3,303.7 446.6,313.1 441.0,306.3" fill="#0ffc52"/><polygon points="355.3,310.6 362.3,304.1 374.0,315.1 369.2,319.5" fill="#0ffc52"/><polygon points="362.3,304.1 371.9,298.8 380.7,311.5 374.0,315.1" fill="#0ffc52"/><polygon points="371.9,298.8 383.5,295.2 388.6,309.0 380.7,311.5" fill="#0ffc52"/><polygon points="383.5,295.2 396.2,293.6 397.4,307.9 388.6,309.0" fill="#0ffc52"/><polygon points="396.2,293.6 409.3,293.9 406.4,308.2 397.4,307.9" fill="#0ffc52"/><polygon points="409.3,293.9 421.7,296.3 414.9,309.8 406.4,308.2" fill="#0ffc52"/><polygon points="421.7,296.3 432.5,300.5 422.3,312.7 414.9,309.8" fill="#0ffc52"/><polygon points="432.5,300.5 441.0,306.3 428.2,316.6 422.3,312.7" fill="#0ffc52"/><polygon points="441.0,306.3 446.6,313.1 432.1,321.3 428.2,316.6" fill="#0ffc52"/><polygon points="446.6,313.1 449.0,320.6 433.8,326.4 432.1,321.3" fill="#0ffc52"/><polygon points="369.2,319.5 374.0,315.1 386.8,324.6 384.3,326.8" fill="#0ffc52"/><polygon points="374.0,315.1 380.7,311.5 390.2,322.8 386.8,324.6" fill="#0ffc52"/><polygon points="380.7,311.5 388.6,309.0 394.2,321.5 390.2,322.8" fill="#0ffc52"/><polygon points="388.6,309.0 397.4,307.9 398.7,321.0 394.2,321.5" fill="#0ffc52"/><polygon points="397.4,307.9 406.4,308.2 403.2,321.1 398.7,321.0" fill="#0ffc52"/><polygon points="406.4,308.2 414.9,309.8 407.5,321.9 403.2,321.1" fill="#0ffc52"/><polygon points="414.9,309.8 422.3,312.7 411.3,323.4 407.5,321.9" fill="#0ffc52"/><polygon points="422.3,312.7 428.2,316.6 414.3,325.3 411.3,323.4" fill="#0ffc52"/><polygon points="428.2,316.6 432.1,321.3 416.3,327.7 414.3,325.3" fill="#0ffc52"/><polygon points="432.1,321.3 433.8,326.4 417.2,330.3 416.3,327.7" fill="#0ffc52"/><polygon points="382.9,329.4 384.3,326.8 399.9,332.2 399.9,332.2" fill="#0ffc52"/><polygon points="384.3,326.8 386.8,324.6 399.9,332.2 399.9,332.2" fill="#0ffc52"/><polygon points="386.8,324.6 390.2,322.8 399.9,332.2 399.9,332.2" fill="#0ffc52"/><polygon points="390.2,322.8 394.2,321.5 399.9,332.2 399.9,332.2" fill="#0ffc52"/><polygon points="394.2,321.5 398.7,321.0 399.9,332.2 399.9,332.2" fill="#0ffc52"/><polygon points="398.7,321.0 403.2,321.1 399.9,332.2 399.9,332.2" fill="#0ffc52"/><polygon points="403.2,321.1 407.5,321.9 399.9,332.2 399.9,332.2" fill="#0ffc52"/><polygon points="407.5,321.9 411.3,323.4 399.9,332.2 399.9,332.2" fill="#0ffc52"/><polygon points="411.3,323.4 414.3,325.3 399.9,332.2 399.9,332.2" fill="#0ffc52"/><polygon points="414.3,325.3 416.3,327.7 399.9,332.2 399.9,332.2" fill="#0ffc52"/><polygon points="416.3,327.7 417.2,330.3 399.9,332.2 399.9,332.2" fill="#0ffc52"/><polygon points="417.2,330.3 416.9,333.0 399.9,332.2 399.9,332.2" fill="#0ffc52"/><path d="M376.7 323.4 L380.3 320.0 L385.3 317.3 L391.4 315.5 L398.0 314.6 L404.8 314.8 L411.2 316.0 L416.9 318.2 L421.3 321.2 L424.3 324.7 L425.6 328.6 M392.1 329.8 L393.3 328.6 L395.0 327.7 L397.1 327.1 L399.3 326.8 L401.6 326.9 L403.7 327.3 L405.6 328.0 L407.1 329.0 L408.2 330.2 L408.6 331.5" fill="none"/></g><text x="393.5" y="211.5" font-size="9.7" textLength="26.2" lengthAdjust="spacingAndGlyphs" fill="#111" stroke="#111" stroke-width="0.2"><tspan font-style="italic">θ</tspan>=90<tspan font-size="7.5" dy="-1" stroke="none">°</tspan></text><text x="372.3" y="222.1" font-size="9.7" textLength="18.0" lengthAdjust="spacingAndGlyphs" fill="#111" stroke="#111" stroke-width="0.2">345<tspan font-size="7.5" dy="-1" stroke="none">°</tspan></text><text x="394.0" y="222.1" font-size="9.7" textLength="22.5" lengthAdjust="spacingAndGlyphs" fill="#111" stroke="#111" stroke-width="0.2"><tspan font-style="italic">φ</tspan>=0<tspan font-size="7.5" dy="-1" stroke="none">°</tspan></text><text x="423.8" y="222.1" font-size="9.7" textLength="12.3" lengthAdjust="spacingAndGlyphs" fill="#111" stroke="#111" stroke-width="0.2">15<tspan font-size="7.5" dy="-1" stroke="none">°</tspan></text><rect x="390.0" y="333.7" width="30" height="9" fill="#fff" opacity="0.6"/><text x="391.0" y="341.0" font-size="9.7" textLength="27.6" lengthAdjust="spacingAndGlyphs" fill="#111" stroke="#111" stroke-width="0.2"><tspan font-style="italic">θ</tspan>=180</text><path d="M395.7 342.7 V351.3 M397.1 342.7 V351.3" stroke="#000" stroke-width="0.4" fill="none"/><defs><linearGradient id="ga" x1="0" y1="0" x2="0" y2="1"><stop offset="0.0000" stop-color="#8c0404"/><stop offset="0.0250" stop-color="#a30303"/><stop offset="0.0500" stop-color="#ba0202"/><stop offset="0.0750" stop-color="#d10202"/><stop offset="0.1000" stop-color="#e80101"/><stop offset="0.1250" stop-color="#ff0000"/><stop offset="0.1500" stop-color="#ff1a00"/><stop offset="0.1750" stop-color="#ff3300"/><stop offset="0.2000" stop-color="#ff4d00"/><stop offset="0.2250" stop-color="#ff6600"/><stop offset="0.2500" stop-color="#ff8000"/><stop offset="0.2750" stop-color="#fe9700"/><stop offset="0.3000" stop-color="#fdaf00"/><stop offset="0.3250" stop-color="#fcc600"/><stop offset="0.3500" stop-color="#fbde00"/><stop offset="0.3750" stop-color="#faf500"/><stop offset="0.4000" stop-color="#ccf703"/><stop offset="0.4250" stop-color="#96f90b"/><stop offset="0.4500" stop-color="#60fa1e"/><stop offset="0.4750" stop-color="#30fb3d"/><stop offset="0.5000" stop-color="#00fc5c"/><stop offset="0.5250" stop-color="#00fb7c"/><stop offset="0.5500" stop-color="#00fa9d"/><stop offset="0.5750" stop-color="#00f9be"/><stop offset="0.6000" stop-color="#00f7de"/><stop offset="0.6250" stop-color="#00f5ff"/><stop offset="0.6500" stop-color="#00deff"/><stop offset="0.6750" stop-color="#00c6ff"/><stop offset="0.7000" stop-color="#00afff"/><stop offset="0.7250" stop-color="#0097ff"/><stop offset="0.7500" stop-color="#0080ff"/><stop offset="0.7750" stop-color="#0066ff"/><stop offset="0.8000" stop-color="#004dff"/><stop offset="0.8250" stop-color="#0033ff"/><stop offset="0.8500" stop-color="#001aff"/><stop offset="0.8750" stop-color="#0000ff"/><stop offset="0.9000" stop-color="#0000e6"/><stop offset="0.9250" stop-color="#0000cc"/><stop offset="0.9500" stop-color="#0000b3"/><stop offset="0.9750" stop-color="#000099"/><stop offset="1.0000" stop-color="#000080"/></linearGradient></defs><rect x="206.1" y="20.2" width="11.5" height="168.6" fill="url(#ga)"/><line x1="216.6" x2="217.6" y1="173.7" y2="173.7" stroke="#222" stroke-width="0.4"/><text x="220.1" y="176.5" font-size="6.4" fill="#222">0.005</text><line x1="216.6" x2="217.6" y1="158.6" y2="158.6" stroke="#222" stroke-width="0.4"/><text x="220.1" y="161.4" font-size="6.4" fill="#222">0.01</text><line x1="216.6" x2="217.6" y1="143.5" y2="143.5" stroke="#222" stroke-width="0.4"/><text x="220.1" y="146.3" font-size="6.4" fill="#222">0.015</text><line x1="216.6" x2="217.6" y1="128.4" y2="128.4" stroke="#222" stroke-width="0.4"/><text x="220.1" y="131.2" font-size="6.4" fill="#222">0.02</text><line x1="216.6" x2="217.6" y1="113.3" y2="113.3" stroke="#222" stroke-width="0.4"/><text x="220.1" y="116.1" font-size="6.4" fill="#222">0.025</text><line x1="216.6" x2="217.6" y1="98.2" y2="98.2" stroke="#222" stroke-width="0.4"/><text x="220.1" y="101.0" font-size="6.4" fill="#222">0.03</text><line x1="216.6" x2="217.6" y1="83.0" y2="83.0" stroke="#222" stroke-width="0.4"/><text x="220.1" y="85.8" font-size="6.4" fill="#222">0.035</text><line x1="216.6" x2="217.6" y1="67.9" y2="67.9" stroke="#222" stroke-width="0.4"/><text x="220.1" y="70.7" font-size="6.4" fill="#222">0.04</text><line x1="216.6" x2="217.6" y1="52.8" y2="52.8" stroke="#222" stroke-width="0.4"/><text x="220.1" y="55.6" font-size="6.4" fill="#222">0.045</text><line x1="216.6" x2="217.6" y1="37.7" y2="37.7" stroke="#222" stroke-width="0.4"/><text x="220.1" y="40.5" font-size="6.4" fill="#222">0.05</text><line x1="216.6" x2="217.6" y1="22.6" y2="22.6" stroke="#222" stroke-width="0.4"/><text x="220.1" y="25.4" font-size="6.4" fill="#222">0.055</text><text x="185.0" y="32.0" font-size="14" fill="#000" stroke="#000" stroke-width="0.2">(a)</text><defs><linearGradient id="gb" x1="0" y1="0" x2="0" y2="1"><stop offset="0.0000" stop-color="#8c0404"/><stop offset="0.0250" stop-color="#a30303"/><stop offset="0.0500" stop-color="#ba0202"/><stop offset="0.0750" stop-color="#d10202"/><stop offset="0.1000" stop-color="#e80101"/><stop offset="0.1250" stop-color="#ff0000"/><stop offset="0.1500" stop-color="#ff1a00"/><stop offset="0.1750" stop-color="#ff3300"/><stop offset="0.2000" stop-color="#ff4d00"/><stop offset="0.2250" stop-color="#ff6600"/><stop offset="0.2500" stop-color="#ff8000"/><stop offset="0.2750" stop-color="#fe9700"/><stop offset="0.3000" stop-color="#fdaf00"/><stop offset="0.3250" stop-color="#fcc600"/><stop offset="0.3500" stop-color="#fbde00"/><stop offset="0.3750" stop-color="#faf500"/><stop offset="0.4000" stop-color="#ccf703"/><stop offset="0.4250" stop-color="#96f90b"/><stop offset="0.4500" stop-color="#60fa1e"/><stop offset="0.4750" stop-color="#30fb3d"/><stop offset="0.5000" stop-color="#00fc5c"/><stop offset="0.5250" stop-color="#00fb7c"/><stop offset="0.5500" stop-color="#00fa9d"/><stop offset="0.5750" stop-color="#00f9be"/><stop offset="0.6000" stop-color="#00f7de"/><stop offset="0.6250" stop-color="#00f5ff"/><stop offset="0.6500" stop-color="#00deff"/><stop offset="0.6750" stop-color="#00c6ff"/><stop offset="0.7000" stop-color="#00afff"/><stop offset="0.7250" stop-color="#0097ff"/><stop offset="0.7500" stop-color="#0080ff"/><stop offset="0.7750" stop-color="#0066ff"/><stop offset="0.8000" stop-color="#004dff"/><stop offset="0.8250" stop-color="#0033ff"/><stop offset="0.8500" stop-color="#001aff"/><stop offset="0.8750" stop-color="#0000ff"/><stop offset="0.9000" stop-color="#0000e6"/><stop offset="0.9250" stop-color="#0000cc"/><stop offset="0.9500" stop-color="#0000b3"/><stop offset="0.9750" stop-color="#000099"/><stop offset="1.0000" stop-color="#000080"/></linearGradient></defs><rect x="515.0" y="20.2" width="11.5" height="168.6" fill="url(#gb)"/><line x1="525.5" x2="526.5" y1="174.3" y2="174.3" stroke="#222" stroke-width="0.4"/><text x="529.0" y="177.1" font-size="6.4" fill="#222">-0.8</text><line x1="525.5" x2="526.5" y1="157.1" y2="157.1" stroke="#222" stroke-width="0.4"/><text x="529.0" y="159.9" font-size="6.4" fill="#222">-0.6</text><line x1="525.5" x2="526.5" y1="140.0" y2="140.0" stroke="#222" stroke-width="0.4"/><text x="529.0" y="142.8" font-size="6.4" fill="#222">-0.4</text><line x1="525.5" x2="526.5" y1="122.9" y2="122.9" stroke="#222" stroke-width="0.4"/><text x="529.0" y="125.7" font-size="6.4" fill="#222">-0.2</text><line x1="525.5" x2="526.5" y1="105.8" y2="105.8" stroke="#222" stroke-width="0.4"/><text x="529.0" y="108.6" font-size="6.4" fill="#222">0</text><line x1="525.5" x2="526.5" y1="88.7" y2="88.7" stroke="#222" stroke-width="0.4"/><text x="529.0" y="91.5" font-size="6.4" fill="#222">0.2</text><line x1="525.5" x2="526.5" y1="71.6" y2="71.6" stroke="#222" stroke-width="0.4"/><text x="529.0" y="74.4" font-size="6.4" fill="#222">0.4</text><line x1="525.5" x2="526.5" y1="54.4" y2="54.4" stroke="#222" stroke-width="0.4"/><text x="529.0" y="57.2" font-size="6.4" fill="#222">0.6</text><line x1="525.5" x2="526.5" y1="37.3" y2="37.3" stroke="#222" stroke-width="0.4"/><text x="529.0" y="40.1" font-size="6.4" fill="#222">0.8</text><text x="492.5" y="32.0" font-size="14" fill="#000" stroke="#000" stroke-width="0.2">(b)</text><defs><linearGradient id="gc" x1="0" y1="0" x2="0" y2="1"><stop offset="0.0000" stop-color="#8c0404"/><stop offset="0.0250" stop-color="#a30303"/><stop offset="0.0500" stop-color="#ba0202"/><stop offset="0.0750" stop-color="#d10202"/><stop offset="0.1000" stop-color="#e80101"/><stop offset="0.1250" stop-color="#ff0000"/><stop offset="0.1500" stop-color="#ff1a00"/><stop offset="0.1750" stop-color="#ff3300"/><stop offset="0.2000" stop-color="#ff4d00"/><stop offset="0.2250" stop-color="#ff6600"/><stop offset="0.2500" stop-color="#ff8000"/><stop offset="0.2750" stop-color="#fe9700"/><stop offset="0.3000" stop-color="#fdaf00"/><stop offset="0.3250" stop-color="#fcc600"/><stop offset="0.3500" stop-color="#fbde00"/><stop offset="0.3750" stop-color="#faf500"/><stop offset="0.4000" stop-color="#ccf703"/><stop offset="0.4250" stop-color="#96f90b"/><stop offset="0.4500" stop-color="#60fa1e"/><stop offset="0.4750" stop-color="#30fb3d"/><stop offset="0.5000" stop-color="#00fc5c"/><stop offset="0.5250" stop-color="#00fb7d"/><stop offset="0.5500" stop-color="#00fa9d"/><stop offset="0.5750" stop-color="#00f9be"/><stop offset="0.6000" stop-color="#00f7de"/><stop offset="0.6250" stop-color="#00f5ff"/><stop offset="0.6500" stop-color="#00deff"/><stop offset="0.6750" stop-color="#00c6ff"/><stop offset="0.7000" stop-color="#00afff"/><stop offset="0.7250" stop-color="#0097ff"/><stop offset="0.7500" stop-color="#0080ff"/><stop offset="0.7750" stop-color="#0066ff"/><stop offset="0.8000" stop-color="#004dff"/><stop offset="0.8250" stop-color="#0033ff"/><stop offset="0.8500" stop-color="#001aff"/><stop offset="0.8750" stop-color="#0000ff"/><stop offset="0.9000" stop-color="#0000e6"/><stop offset="0.9250" stop-color="#0000cc"/><stop offset="0.9500" stop-color="#0000b3"/><stop offset="0.9750" stop-color="#000099"/><stop offset="1.0000" stop-color="#000080"/></linearGradient></defs><rect x="206.1" y="218.7" width="11.5" height="169.9" fill="url(#gc)"/><line x1="216.6" x2="217.6" y1="373.0" y2="373.0" stroke="#222" stroke-width="0.4"/><text x="220.1" y="375.8" font-size="6.4" fill="#222">-0.8</text><line x1="216.6" x2="217.6" y1="355.3" y2="355.3" stroke="#222" stroke-width="0.4"/><text x="220.1" y="358.1" font-size="6.4" fill="#222">-0.6</text><line x1="216.6" x2="217.6" y1="337.6" y2="337.6" stroke="#222" stroke-width="0.4"/><text x="220.1" y="340.4" font-size="6.4" fill="#222">-0.4</text><line x1="216.6" x2="217.6" y1="320.0" y2="320.0" stroke="#222" stroke-width="0.4"/><text x="220.1" y="322.8" font-size="6.4" fill="#222">-0.2</text><line x1="216.6" x2="217.6" y1="302.3" y2="302.3" stroke="#222" stroke-width="0.4"/><text x="220.1" y="305.1" font-size="6.4" fill="#222">0</text><line x1="216.6" x2="217.6" y1="284.6" y2="284.6" stroke="#222" stroke-width="0.4"/><text x="220.1" y="287.4" font-size="6.4" fill="#222">0.2</text><line x1="216.6" x2="217.6" y1="266.9" y2="266.9" stroke="#222" stroke-width="0.4"/><text x="220.1" y="269.7" font-size="6.4" fill="#222">0.4</text><line x1="216.6" x2="217.6" y1="249.3" y2="249.3" stroke="#222" stroke-width="0.4"/><text x="220.1" y="252.1" font-size="6.4" fill="#222">0.6</text><line x1="216.6" x2="217.6" y1="231.6" y2="231.6" stroke="#222" stroke-width="0.4"/><text x="220.1" y="234.4" font-size="6.4" fill="#222">0.8</text><text x="185.0" y="230.5" font-size="14" fill="#000" stroke="#000" stroke-width="0.2">(c)</text><defs><linearGradient id="gd" x1="0" y1="0" x2="0" y2="1"><stop offset="0.0000" stop-color="#ebf601"/><stop offset="0.0301" stop-color="#ebf601"/><stop offset="0.0301" stop-color="#cef703"/><stop offset="0.1053" stop-color="#cef703"/><stop offset="0.1053" stop-color="#b0f806"/><stop offset="0.1805" stop-color="#b0f806"/><stop offset="0.1805" stop-color="#8bf90d"/><stop offset="0.2556" stop-color="#8bf90d"/><stop offset="0.2556" stop-color="#69fa19"/><stop offset="0.3308" stop-color="#69fa19"/><stop offset="0.3308" stop-color="#4bfb2c"/><stop offset="0.4060" stop-color="#4bfb2c"/><stop offset="0.4060" stop-color="#2dfb3f"/><stop offset="0.4812" stop-color="#2dfb3f"/><stop offset="0.4812" stop-color="#0ffc52"/><stop offset="0.5564" stop-color="#0ffc52"/><stop offset="0.5564" stop-color="#00fc66"/><stop offset="0.6316" stop-color="#00fc66"/><stop offset="0.6316" stop-color="#00fb7a"/><stop offset="0.7043" stop-color="#00fb7a"/><stop offset="0.7043" stop-color="#00fb8f"/><stop offset="0.7794" stop-color="#00fb8f"/><stop offset="0.7794" stop-color="#00faa3"/><stop offset="0.8546" stop-color="#00faa3"/><stop offset="0.8546" stop-color="#00f9b7"/><stop offset="0.9298" stop-color="#00f9b7"/><stop offset="0.9298" stop-color="#00f8cc"/><stop offset="1" stop-color="#00f8cc"/></linearGradient></defs><rect x="514.8" y="218.4" width="11.5" height="169.9" fill="url(#gd)"/><line x1="525.3" x2="526.3" y1="388.3" y2="388.3" stroke="#222" stroke-width="0.4"/><text x="528.8" y="391.1" font-size="6.4" fill="#222">-0.2</text><line x1="525.3" x2="526.3" y1="367.1" y2="367.1" stroke="#222" stroke-width="0.4"/><text x="528.8" y="369.9" font-size="6.4" fill="#222">-0.15</text><line x1="525.3" x2="526.3" y1="345.8" y2="345.8" stroke="#222" stroke-width="0.4"/><text x="528.8" y="348.6" font-size="6.4" fill="#222">-0.1</text><line x1="525.3" x2="526.3" y1="324.6" y2="324.6" stroke="#222" stroke-width="0.4"/><text x="528.8" y="327.4" font-size="6.4" fill="#222">-0.05</text><line x1="525.3" x2="526.3" y1="303.4" y2="303.4" stroke="#222" stroke-width="0.4"/><text x="528.8" y="306.2" font-size="6.4" fill="#222">0</text><line x1="525.3" x2="526.3" y1="282.1" y2="282.1" stroke="#222" stroke-width="0.4"/><text x="528.8" y="284.9" font-size="6.4" fill="#222">0.05</text><line x1="525.3" x2="526.3" y1="260.9" y2="260.9" stroke="#222" stroke-width="0.4"/><text x="528.8" y="263.7" font-size="6.4" fill="#222">0.1</text><line x1="525.3" x2="526.3" y1="239.6" y2="239.6" stroke="#222" stroke-width="0.4"/><text x="528.8" y="242.4" font-size="6.4" fill="#222">0.15</text><line x1="525.3" x2="526.3" y1="218.4" y2="218.4" stroke="#222" stroke-width="0.4"/><text x="528.8" y="221.2" font-size="6.4" fill="#222">0.2</text><text x="491.0" y="230.5" font-size="14" fill="#000" stroke="#000" stroke-width="0.2">(d)</text><rect x="181.2" y="379" width="1.6" height="0.8" fill="#c8c8c8"/></svg></body></html>
